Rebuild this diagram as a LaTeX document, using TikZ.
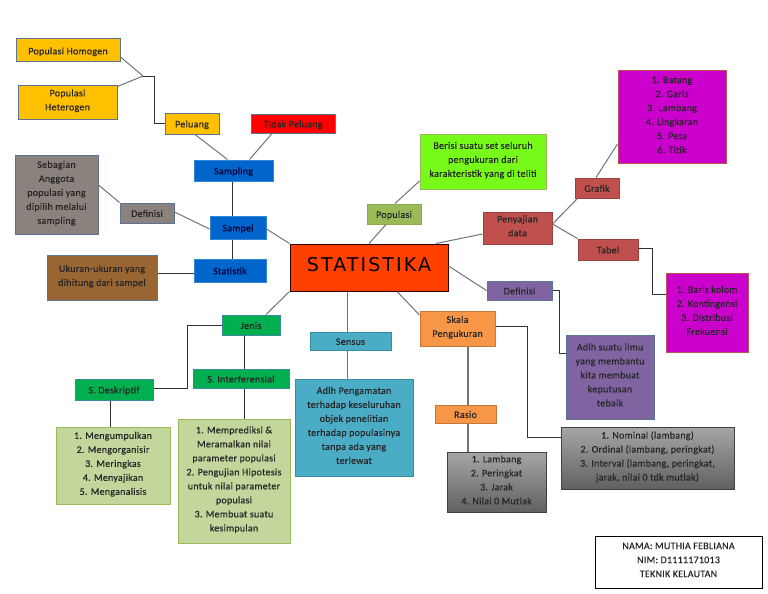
\documentclass[tikz,border=0pt]{standalone}
\usepackage{fontspec}
\usepackage{xcolor}
\setmainfont[LetterSpace=2.5,FakeBold=0.35]{Carlito}
\newfontfamily\titlefont[LetterSpace=11]{DejaVu Sans}
\usetikzlibrary{positioning,calc}
\definecolor{boxyellow}{HTML}{FFC000}
\definecolor{boxred}{HTML}{FF0000}
\definecolor{boxblue}{HTML}{0066CC}
\definecolor{boxtaupe}{HTML}{8B827E}
\definecolor{boxbrown}{HTML}{996633}
\definecolor{boxtitle}{HTML}{FF4000}
\definecolor{boxolive}{HTML}{9BBB59}
\definecolor{boxlime}{HTML}{77F91A}
\definecolor{boxbrick}{HTML}{C0504D}
\definecolor{boxmagenta}{HTML}{CC00CC}
\definecolor{boxpurple}{HTML}{8064A2}
\definecolor{boxorange}{HTML}{F79646}
\definecolor{boxgreen}{HTML}{00B050}
\definecolor{boxsage}{HTML}{C3D69B}
\definecolor{boxteal}{HTML}{4BACC6}
\definecolor{edgeslate}{HTML}{5B7394}
\definecolor{inkdark}{HTML}{262626}
\tikzset{
    box/.style={draw=edgeslate, line width=1pt, inner sep=0pt, align=center, text=inkdark,
        font=\fontsize{10}{14}\selectfont, execute at begin node={\rule{0pt}{12pt}}, execute at end node={\strut}},
    boxsize/.style 2 args={minimum width=#1, minimum height=#2},
    yellowbox/.style={box, fill=boxyellow},
    bluebox/.style={box, fill=boxblue, draw=boxblue!80!white, text=black!80!blue},
    taupebox/.style={box, fill=boxtaupe},
    brownbox/.style={box, fill=boxbrown},
    olivebox/.style={box, fill=boxolive, draw=boxolive!90!black},
    limebox/.style={box, fill=boxlime, draw=boxolive},
    brickbox/.style={box, fill=boxbrick, draw=boxbrick!80!black},
    magentabox/.style={box, fill=boxmagenta, draw=boxbrick},
    purplebox/.style={box, fill=boxpurple},
    orangebox/.style={box, fill=boxorange, draw=boxorange!80!black},
    greenbox/.style={box, fill=boxgreen, draw=boxteal!80!black},
    sagebox/.style={box, fill=boxsage, draw=boxolive},
    tealbox/.style={box, fill=boxteal, draw=boxteal!80!black},
    graybox/.style={box, top color=black!35, bottom color=black!62, draw=black!75},
    link/.style={draw=black!55, line width=1pt},
    elbow/.style={draw=black!80, line width=1pt}
}
\begin{document}
\begin{tikzpicture}[x=1pt,y=-1pt]
    \useasboundingbox (0,0) rectangle (768,594);

    % Centre
    \node[box, fill=boxtitle, draw=black!85!red, boxsize={158}{47}, font=\titlefont\fontsize{19}{20}\selectfont, text=black] (statistika) at (369,267.5) {STATISTIKA};

    % Sampel branch
    \node[yellowbox, boxsize={104}{23}] (homogen) at (68,50.5) {Populasi Homogen};
    \node[yellowbox, boxsize={99}{34}] (heterogen) at (67.5,102) {Populasi\\Heterogen};
    \coordinate (junction) at (143,76);
    \node[yellowbox, boxsize={54}{21}] (peluang) at (192,123.5) {Peluang};
    \node[box, fill=boxred, boxsize={84}{19}] (tidakpeluang) at (293,123.5) {Tidak Peluang};
    \node[bluebox, boxsize={79}{21}] (sampling) at (233.5,170.5) {Sampling};
    \node[bluebox, boxsize={56}{23}] (sampel) at (238,227.5) {Sampel};
    \node[bluebox, boxsize={72}{23}] (statistik) at (230,270.5) {Statistik};
    \node[taupebox, boxsize={83}{79}] (sebagian) at (56.5,194.5) {Sebagian\\Anggota\\populasi yang\\dipilih melalui\\sampling};
    \node[taupebox, boxsize={54}{20}] (definisikiri) at (147,213) {Definisi};
    \node[brownbox, boxsize={110}{45}] (ukuran) at (102,277.5) {Ukuran-ukuran yang\\dihitung dari sampel};

    % Populasi and Penyajian data
    \node[olivebox, boxsize={54}{20}] (populasi) at (394,214) {Populasi};
    \node[limebox, boxsize={126}{55}] (berisi) at (483,161.5) {Berisi suatu set seluruh\\pengukuran dari\\karakteristik yang di teliti};
    \node[brickbox, boxsize={69}{32}] (penyajian) at (517.5,228) {Penyajian\\data};
    \node[brickbox, boxsize={44}{20}] (grafik) at (597,188) {Grafik};
    \node[magentabox, boxsize={108}{93}] (grafikisi) at (672,117) {1. Batang\\2. Garis\\3. Lambang\\4. Lingkaran\\5. Peta\\6. Titik};
    \node[brickbox, boxsize={60}{21}] (tabel) at (608,249.5) {Tabel};
    \node[magentabox, boxsize={82}{79}] (tabelisi) at (707,312.5) {1. Baris kolom\\2. Kontingensi\\3. Distribusi\\Frekuensi};

    % Definisi and Skala Pengukuran
    \node[purplebox, boxsize={65}{19}] (definisikanan) at (519.5,290.5) {Definisi};
    \node[purplebox, boxsize={88}{84}] (definisiisi) at (610,377) {Adlh suatu ilmu\\yang membantu\\kita membuat\\keputusan\\tebaik};
    \node[orangebox, boxsize={75}{35}] (skala) at (457.5,328.5) {Skala\\Pengukuran};
    \node[orangebox, boxsize={61}{18}] (rasio) at (465.5,414) {Rasio};
    \node[graybox, boxsize={99}{60}] (rasioisi) at (496.5,482) {1. Lambang\\2. Peringkat\\3. Jarak\\4. Nilai 0 Mutlak};
    \node[graybox, boxsize={173}{62}] (skalaisi) at (647.5,458) {1. Nominal (lambang)\\2. Ordinal (lambang, peringkat)\\3. Interval (lambang, peringkat,\\jarak, nilai 0 tdk mutlak)};

    % Jenis and Sensus
    \node[greenbox, boxsize={58}{20}] (jenis) at (251,325) {Jenis};
    \node[greenbox, boxsize={78}{21}] (deskriptif) at (114,389.5) {S. Deskriptif};
    \node[greenbox, boxsize={96}{19}] (interferensial) at (241,378.5) {S. Interferensial};
    \node[sagebox, boxsize={114}{77}] (deskriptifisi) at (113,465.5) {1. Mengumpulkan\\2. Mengorganisir\\3. Meringkas\\4. Menyajikan\\5. Menganalisis};
    \node[sagebox, boxsize={112}{124}] (interferensialisi) at (234,481) {1. Memprediksi \&\\Meramalkan nilai\\parameter populasi\\2. Pengujian Hipotesis\\untuk nilai parameter\\populasi\\3. Membuat suatu\\kesimpulan};
    \node[tealbox, boxsize={81}{18}] (sensus) at (350.5,341) {Sensus};
    \node[tealbox, boxsize={118}{97}] (sensusisi) at (354,427.5) {Adlh Pengamatan\\terhadap keseluruhan\\objek penelitian\\terhadap populasinya\\tanpa ada yang\\terlewat};

    % Signature
    \node[box, fill=white, draw=black, boxsize={167}{52}] (nama) at (678.5,562) {NAMA: MUTHIA FEBLIANA\\NIM: D1111171013\\TEKNIK KELAUTAN};

    % Connectors
    \draw[link] ([yshift=-6.5]homogen.east) -- (junction);
    \draw[link] ([yshift=-2]heterogen.north east) -- (junction);
    \draw[elbow] (junction) -- ++(11,0) |- (peluang.west);
    \draw[link] ([xshift=3]peluang.south) -- ([xshift=-6]sampling.north);
    \draw[link] ([xshift=-21]tidakpeluang.south) -- ([xshift=16]sampling.north);
    \draw[elbow] ([xshift=-1.5]sampling.south) -- ([xshift=-6]sampel.north);
    \draw[link] (sebagian.east) ++(0,-9.5) -- (definisikiri.north west);
    \draw[link] ([yshift=1]definisikiri.east) -- ([yshift=-1.5]sampel.west);
    \draw[elbow] ([xshift=-6]sampel.south) -- ([xshift=2]statistik.north);
    \draw[elbow] ([yshift=-2.5]statistik.west) -- ([yshift=4.5]ukuran.east);
    \draw[link] ([yshift=-1.5]sampel.east) -- (statistika.north west);
    \draw[link] (statistika.south west) -- ([xshift=15]jenis.north);
    \draw[link] ([xshift=-22]statistika.south) -- ([xshift=-3.5]sensus.north);
    \draw[link] ([xshift=-3.5]sensus.south) -- ([xshift=-7]sensusisi.north);
    \draw[link] ([xshift=28]statistika.south) -- ([yshift=13.5]skala.west);
    \draw[link] ([yshift=1.5]statistika.east) -- (definisikanan.west);
    \draw[elbow] (definisikanan.east) -- ++(7,0) |- ([yshift=24]definisiisi.west);
    \draw[link] ([xshift=67]statistika.north) -- ([yshift=-6]penyajian.west);
    \draw[link] ([xshift=-8]populasi.south) -- (statistika.north);
    \draw[link] ([xshift=1]populasi.north) -- ([yshift=-19.5]berisi.west);
    \draw[link] ([yshift=4]penyajian.east) -- ([xshift=3]grafik.south west);
    \draw[link] ([xshift=-1]grafik.north) -- ([yshift=-27]grafikisi.west);
    \draw[link] ([yshift=4]penyajian.east) -- (tabel.north west);
    \draw[elbow] ([yshift=1.5]tabel.east) -- ++(14,0) |- ([yshift=18]tabelisi.west);
    \draw[elbow] ([yshift=2.5]skala.east) -- ++(32,0) |- ([yshift=21]skalaisi.west);
    \draw[link, line width=1.5pt] ([xshift=10.5]skala.south) -- ([xshift=2.5]rasio.north);
    \draw[link, line width=1.5pt] ([xshift=2.5]rasio.south) -- ([xshift=-28.5]rasioisi.north);
    \draw[elbow] (jenis.west) -- ++(-34,0) |- ([yshift=1.5]deskriptif.east);
    \draw[elbow] ([xshift=-7]jenis.south) -- ([xshift=3]interferensial.north);
    \draw[elbow] ([xshift=3]interferensial.south) -- ([xshift=10]interferensialisi.north);
    \draw[elbow] ([xshift=-4]deskriptif.south) -- ([xshift=-3]deskriptifisi.north);
\end{tikzpicture}
\end{document}
